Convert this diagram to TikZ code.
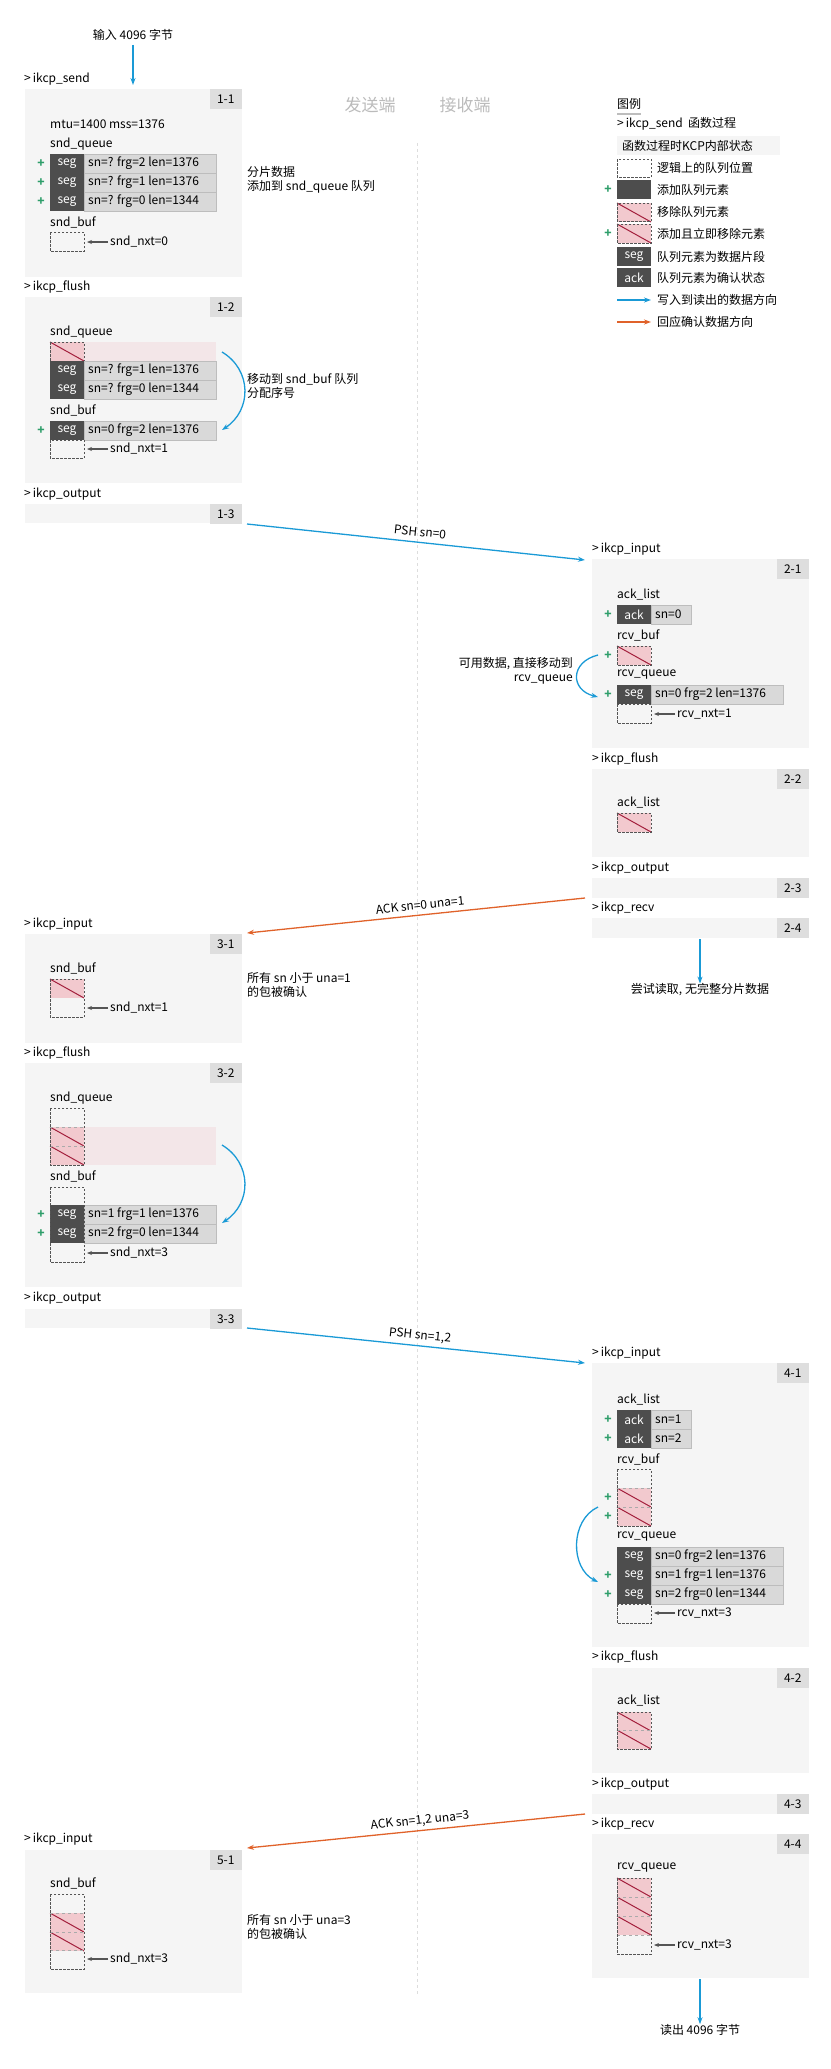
\documentclass[tikz,border=0pt]{standalone}
\usepackage{fontspec}
\setmainfont{Noto Sans CJK SC}
\usetikzlibrary{arrows.meta,calc}
\definecolor{panelbg}{HTML}{F5F5F5}
\definecolor{tagbg}{HTML}{DEDEDE}
\definecolor{darkcell}{HTML}{4D4D4D}
\definecolor{graycell}{HTML}{D9D9D9}
\definecolor{grayline}{HTML}{BDBDBD}
\definecolor{pinkcell}{HTML}{F2C9CE}
\definecolor{pinkbar}{HTML}{F3E6E8}
\definecolor{redline}{HTML}{A3203D}
\definecolor{dashcol}{HTML}{555555}
\definecolor{pluscol}{HTML}{2E9E6A}
\definecolor{bluearr}{HTML}{1A9AD6}
\definecolor{orangearr}{HTML}{E0622A}
\definecolor{sidecol}{HTML}{BBBBBB}
\tikzset{
  txt/.style={font=\fontsize{12}{14}\selectfont, inner sep=0pt, anchor=west},
  celltxt/.style={font=\fontsize{12}{14}\selectfont, inner sep=0pt},
  tagbox/.style={fill=tagbg, minimum width=32pt, minimum height=20pt, inner sep=0pt, anchor=north east, font=\fontsize{12}{14}\selectfont},
  dashbox/.style={draw=dashcol, line width=1pt, dash pattern=on 2.5pt off 1.5pt},
  bluearrow/.style={draw=bluearr, line width=1.3pt, -{Stealth[length=7pt,width=5pt]}},
  orangearrow/.style={draw=orangearr, line width=1.3pt, -{Stealth[length=7pt,width=5pt]}},
  ptrarrow/.style={draw=dashcol, line width=1.3pt, -{Stealth[length=5pt,width=4pt]}},
}
\newcommand\kpanel[5]{\fill[panelbg] (#1,#2) rectangle (#3,#4); \node[tagbox] at (#3,#2) {#5};}
\newcommand\kfunc[3]{\node[txt] at (#1,#2) {>\,#3};}
\newcommand\kcell[5]{%
  \fill[darkcell] (#1,#2) rectangle ++(34,19);
  \node[celltxt, text=white] at ($(#1,#2)+(17,9.5)$) {#3};
  \filldraw[fill=graycell, draw=grayline] ($(#1,#2)+(34,0)$) rectangle ++(#5,19);
  \node[celltxt, anchor=west] at ($(#1,#2)+(38,9.5)$) {#4};}
\newcommand\kplus[2]{\node[celltxt, text=pluscol, font=\bfseries\fontsize{12}{12}\selectfont] at ($(#1,#2)+(-9,9.5)$) {+};}
\newcommand\krem[2]{\fill[pinkcell] (#1,#2) rectangle ++(34,19); \draw[redline, line width=1pt] (#1,#2) -- ++(34,19);}
\newcommand\kdash[3]{\draw[dashbox] (#1,#2) rectangle (#1+34,#3);}
\newcommand\kptr[3]{\draw[ptrarrow] (#1+58,#2) -- (#1+37,#2); \node[txt] at (#1+60,#2) {#3};}
\begin{document}
\begin{tikzpicture}[x=1pt,y=-1pt]
\useasboundingbox (0,0) rectangle (830,2069);
\draw[sidecol!50, dashed] (417,143) -- (417,1995);
\node[celltxt, text=sidecol, font=\fontsize{17}{18}\selectfont] (send) at (370,105) {发送端};
\node[celltxt, text=sidecol, font=\fontsize{17}{18}\selectfont] (recv) at (465,105) {接收端};
\node[celltxt] (in) at (133,35) {输入 4096 字节};
\coordinate (sendin) at (133,85);
\draw[bluearrow] (in.south) ++(0,4) -- (sendin);
% ---------- 1-1
\kfunc{24}{79}{ikcp\_send}
\kpanel{25}{89}{242}{277}{1-1}
\node[txt] at (50,124) {mtu=1400 mss=1376};
\node[txt] at (50,144) {snd\_queue};
\kplus{50}{154}\kcell{50}{154}{seg}{sn=? frg=2 len=1376}{132}
\kplus{50}{173}\kcell{50}{173}{seg}{sn=? frg=1 len=1376}{132}
\kplus{50}{192}\kcell{50}{192}{seg}{sn=? frg=0 len=1344}{132}
\node[txt] at (50,222) {snd\_buf};
\kdash{50}{232}{251}\kptr{50}{242}{snd\_nxt=0}
\node[txt, align=left, anchor=north west] at (247,166) {分片数据\\添加到 snd\_queue 队列};
% ---------- 1-2
\kfunc{24}{287}{ikcp\_flush}
\kpanel{25}{297}{242}{483}{1-2}
\node[txt] at (50,332) {snd\_queue};
\fill[pinkbar] (84,342) rectangle (216,361);
\krem{50}{342}\kdash{50}{342}{361}
\kcell{50}{361}{seg}{sn=? frg=1 len=1376}{132}
\kcell{50}{380}{seg}{sn=? frg=0 len=1344}{132}
\node[txt] at (50,410) {snd\_buf};
\kplus{50}{421}\kcell{50}{421}{seg}{sn=0 frg=2 len=1376}{132}
\kdash{50}{440}{458}\kptr{50}{449}{snd\_nxt=1}
\coordinate (m1a) at (222,352); \coordinate (m1b) at (222,430);
\draw[bluearrow] (m1a) .. controls (252,370) and (252,410) .. (m1b);
\node[txt, align=left, anchor=north west] at (247,373) {移动到 snd\_buf 队列\\分配序号};
% ---------- 1-3
\kfunc{24}{494}{ikcp\_output}
\kpanel{25}{504}{242}{523}{1-3}
\coordinate (o13) at (247,524); \coordinate (i21) at (585,560);
\draw[bluearrow] (o13) -- (i21);
\node[celltxt, rotate=-6] at (420,532) {PSH sn=0};
% ---------- 2-1
\kfunc{592}{549}{ikcp\_input}
\kpanel{592}{559}{809}{748}{2-1}
\node[txt] at (617,595) {ack\_list};
\kplus{617}{605}\kcell{617}{605}{ack}{sn=0}{40}
\node[txt] at (617,635) {rcv\_buf};
\kplus{617}{646}\krem{617}{646}\kdash{617}{646}{665}
\node[txt] at (617,675) {rcv\_queue};
\kplus{617}{685}\kcell{617}{685}{seg}{sn=0 frg=2 len=1376}{132}
\kdash{617}{704}{723}\kptr{617}{714}{rcv\_nxt=1}
\coordinate (m2a) at (598,655); \coordinate (m2b) at (598,697);
\draw[bluearrow] (m2a) .. controls (570,662) and (570,690) .. (m2b);
\node[txt, align=right, anchor=north east] at (573,657) {可用数据, 直接移动到\\rcv\_queue};
% ---------- 2-2
\kfunc{592}{759}{ikcp\_flush}
\kpanel{592}{769}{809}{857}{2-2}
\node[txt] at (617,803) {ack\_list};
\krem{617}{813}\kdash{617}{813}{832}
% ---------- 2-3, 2-4
\kfunc{592}{868}{ikcp\_output}
\kpanel{592}{878}{809}{898}{2-3}
\kfunc{592}{908}{ikcp\_recv}
\kpanel{592}{918}{809}{938}{2-4}
\coordinate (r24) at (700,939);
\node[celltxt] (try) at (700,990) {尝试读取, 无完整分片数据};
\draw[bluearrow] (r24) -- (try.north);
\coordinate (o23) at (585,898); \coordinate (i31) at (247,933);
\draw[orangearrow] (o23) -- (i31);
\node[celltxt, rotate=6] at (420,905) {ACK sn=0 una=1};
% ---------- 3-1
\kfunc{24}{924}{ikcp\_input}
\kpanel{25}{934}{242}{1043}{3-1}
\node[txt] at (50,968) {snd\_buf};
\krem{50}{979}\kdash{50}{979}{1017}\kptr{50}{1008}{snd\_nxt=1}
\node[txt, align=left, anchor=north west] at (247,972) {所有 sn 小于 una=1\\的包被确认};
% ---------- 3-2
\kfunc{24}{1053}{ikcp\_flush}
\kpanel{25}{1063}{242}{1287}{3-2}
\node[txt] at (50,1098) {snd\_queue};
\fill[pinkbar] (84,1127) rectangle (216,1165);
\krem{50}{1127}\krem{50}{1146}
\draw[dashcol!50, dashed] (50,1127) -- (84,1127) (50,1146) -- (84,1146);
\kdash{50}{1108}{1165}
\node[txt] at (50,1176) {snd\_buf};
\kplus{50}{1205}\kcell{50}{1205}{seg}{sn=1 frg=1 len=1376}{132}
\kplus{50}{1224}\kcell{50}{1224}{seg}{sn=2 frg=0 len=1344}{132}
\kdash{50}{1187}{1262}\kptr{50}{1253}{snd\_nxt=3}
\coordinate (m3a) at (222,1145); \coordinate (m3b) at (222,1223);
\draw[bluearrow] (m3a) .. controls (252,1163) and (252,1203) .. (m3b);
% ---------- 3-3
\kfunc{24}{1298}{ikcp\_output}
\kpanel{25}{1309}{242}{1328}{3-3}
\coordinate (o33) at (247,1328); \coordinate (i41) at (585,1363);
\draw[bluearrow] (o33) -- (i41);
\node[celltxt, rotate=-6] at (420,1336) {PSH sn=1,2};
% ---------- 4-1
\kfunc{592}{1353}{ikcp\_input}
\kpanel{592}{1363}{809}{1647}{4-1}
\node[txt] at (617,1400) {ack\_list};
\kplus{617}{1410}\kcell{617}{1410}{ack}{sn=1}{40}
\kplus{617}{1429}\kcell{617}{1429}{ack}{sn=2}{40}
\node[txt] at (617,1459) {rcv\_buf};
\kplus{617}{1488}\krem{617}{1488}
\kplus{617}{1507}\krem{617}{1507}
\draw[dashcol!50, dashed] (617,1488) -- (651,1488) (617,1507) -- (651,1507);
\kdash{617}{1469}{1526}
\node[txt] at (617,1537) {rcv\_queue};
\kcell{617}{1547}{seg}{sn=0 frg=2 len=1376}{132}
\kplus{617}{1566}\kcell{617}{1566}{seg}{sn=1 frg=1 len=1376}{132}
\kplus{617}{1585}\kcell{617}{1585}{seg}{sn=2 frg=0 len=1344}{132}
\kdash{617}{1604}{1623}\kptr{617}{1613}{rcv\_nxt=3}
\coordinate (m4a) at (598,1507); \coordinate (m4b) at (598,1582);
\draw[bluearrow] (m4a) .. controls (570,1520) and (570,1568) .. (m4b);
% ---------- 4-2
\kfunc{592}{1657}{ikcp\_flush}
\kpanel{592}{1668}{809}{1773}{4-2}
\node[txt] at (617,1701) {ack\_list};
\krem{617}{1712}\krem{617}{1730}
\draw[dashcol!50, dashed] (617,1730) -- (651,1730);
\kdash{617}{1712}{1749}
% ---------- 4-3, 4-4
\kfunc{592}{1784}{ikcp\_output}
\kpanel{592}{1794}{809}{1814}{4-3}
\kfunc{592}{1824}{ikcp\_recv}
\kpanel{592}{1834}{809}{1978}{4-4}
\node[txt] at (617,1868) {rcv\_queue};
\krem{617}{1878}\krem{617}{1897}\krem{617}{1916}
\draw[dashcol!50, dashed] (617,1897) -- (651,1897) (617,1916) -- (651,1916) (617,1935) -- (651,1935);
\kdash{617}{1878}{1954}\kptr{617}{1945}{rcv\_nxt=3}
\coordinate (r44) at (700,1979);
\node[celltxt] (out) at (700,2030) {读出 4096 字节};
\draw[bluearrow] (r44) -- (out.north);
\coordinate (o43) at (585,1814); \coordinate (i51) at (247,1848);
\draw[orangearrow] (o43) -- (i51);
\node[celltxt, rotate=6] at (420,1821) {ACK sn=1,2 una=3};
% ---------- 5-1
\kfunc{24}{1839}{ikcp\_input}
\kpanel{25}{1850}{242}{1993}{5-1}
\node[txt] at (50,1883) {snd\_buf};
\krem{50}{1913}\krem{50}{1932}
\draw[dashcol!50, dashed] (50,1913) -- (84,1913) (50,1932) -- (84,1932) (50,1950) -- (84,1950);
\kdash{50}{1894}{1969}\kptr{50}{1959}{snd\_nxt=3}
\node[txt, align=left, anchor=north west] at (247,1914) {所有 sn 小于 una=3\\的包被确认};
% ---------- legend
\node[txt] (leg) at (617,104) {图例};
\draw[grayline, line width=1.5pt] (617,114) -- (641,114);
\node[txt] at (617,124) {>\,ikcp\_send\ \ 函数过程};
\fill[panelbg] (617,136) rectangle (780,155);
\node[txt] at (622,145.5) {函数过程时KCP内部状态};
\kdash{617}{159}{177} \node[txt] at (657,168) {逻辑上的队列位置};
\kplus{617}{180}\fill[darkcell] (617,180) rectangle ++(34,19); \node[txt] at (657,189.5) {添加队列元素};
\krem{617}{203}\kdash{617}{203}{221} \node[txt] at (657,212) {移除队列元素};
\kplus{617}{224}\krem{617}{224}\kdash{617}{224}{243} \node[txt] at (657,233.5) {添加且立即移除元素};
\fill[darkcell] (617,247) rectangle ++(34,19); \node[celltxt, text=white] at (634,256.5) {seg}; \node[txt] at (657,256.5) {队列元素为数据片段};
\fill[darkcell] (617,268) rectangle ++(34,19); \node[celltxt, text=white] at (634,277.5) {ack}; \node[txt] at (657,277.5) {队列元素为确认状态};
\coordinate (lb1) at (617,300); \coordinate (lb2) at (651,300);
\draw[bluearrow] (lb1) -- (lb2); \node[txt] at (657,300) {写入到读出的数据方向};
\coordinate (lo1) at (617,322); \coordinate (lo2) at (651,322);
\draw[orangearrow] (lo1) -- (lo2); \node[txt] at (657,322) {回应确认数据方向};
\end{tikzpicture}
\end{document}
